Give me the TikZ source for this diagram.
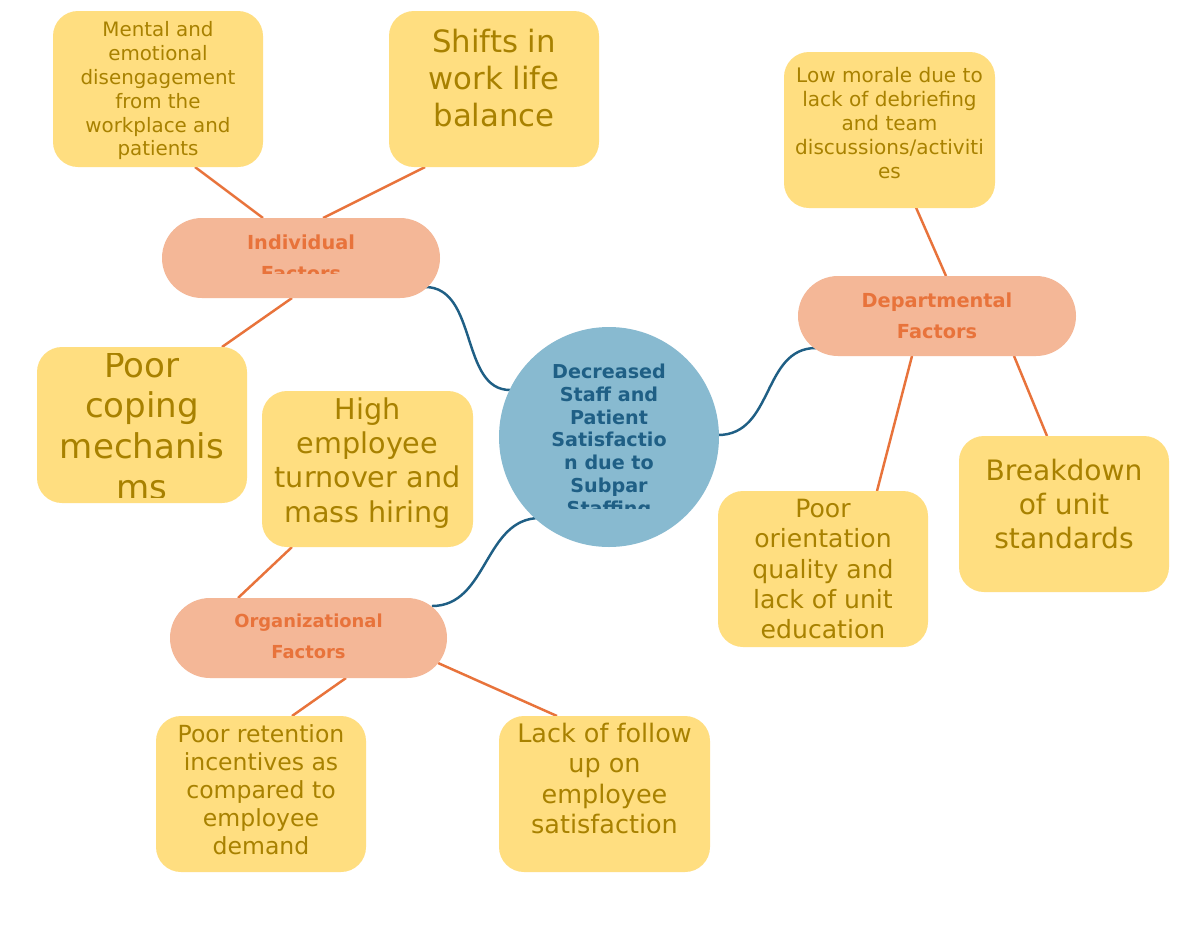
\documentclass[tikz,border=0pt]{standalone}
\usepackage{fontspec}
\setmainfont{DejaVu Sans}
\definecolor{boxf}{HTML}{FFDE80}
\definecolor{boxt}{HTML}{A88100}
\definecolor{pillf}{HTML}{F4B797}
\definecolor{orng}{HTML}{E8733B}
\definecolor{circf}{HTML}{88BAD0}
\definecolor{blu}{HTML}{1F5F85}
\tikzset{
 boxst/.style={fill=boxf,rounded corners=0.5cm,inner sep=0},
 pillst/.style={fill=pillf,rounded corners=0.8cm,inner sep=0},
 txt/.style={anchor=north,inner sep=0,align=center,text=boxt},
 ptxt/.style={anchor=north,inner sep=0,align=center,text=orng,font=\bfseries},
 oline/.style={draw=orng,line width=1.4pt},
 bline/.style={draw=blu,line width=1.4pt},
}
% #1 name #2 x1 #3 y1 #4 x2 #5 y2 #6 text north y #7 size #8 skip #9 text
\newcommand\tbox[9]{%
 \node[boxst,minimum width={(#4-#2)*0.02cm},minimum height={(#5-#3)*0.02cm}] (#1) at ({(#2+#4)/2},{(#3+#5)/2}) {};
 \begin{scope}\clip (#2,#3+6) rectangle (#4,#5-6);
 \node[txt,font=\fontsize{#7}{#8}\selectfont] at ({(#2+#4)/2},#6) {#9};
 \end{scope}}
\newcommand\pbox[9]{%
 \node[pillst,minimum width={(#4-#2)*0.02cm},minimum height={(#5-#3)*0.02cm}] (#1) at ({(#2+#4)/2},{(#3+#5)/2}) {};
 \begin{scope}\clip (#2,#3) rectangle (#4,#8);
 \node[ptxt,font=\fontsize{#7}{17.6}\selectfont\bfseries] at ({(#2+#4)/2},#6) {#9};
 \end{scope}}
\begin{document}
\begin{tikzpicture}[x=0.02cm,y=-0.02cm]
\fill[white] (0,0) rectangle (1200,927);
% connectors first
\coordinate (m1) at (195,167); \coordinate (i1) at (263,218);
\coordinate (s1) at (425,167); \coordinate (i2) at (323,218);
\coordinate (i3) at (292,298); \coordinate (pc1) at (222,347);
\coordinate (i4) at (425,287); \coordinate (c1) at (510,390);
\coordinate (lm1) at (914,203); \coordinate (d1) at (946,276);
\coordinate (d2) at (816,348); \coordinate (c2) at (718,435);
\coordinate (d3) at (912,356); \coordinate (po1) at (877,491);
\coordinate (d4) at (1014,356); \coordinate (b1) at (1047,436);
\coordinate (c3) at (540,518); \coordinate (o1) at (432,606);
\coordinate (h1) at (292,547); \coordinate (o2) at (238,598);
\coordinate (o3) at (346,678); \coordinate (r1) at (292,716);
\coordinate (o4) at (438,663); \coordinate (l1) at (557,716);
\draw[oline] (m1)--(i1); \draw[oline] (s1)--(i2); \draw[oline] (i3)--(pc1);
\draw[oline] (lm1)--(d1); \draw[oline] (d3)--(po1); \draw[oline] (d4)--(b1);
\draw[oline] (h1)--(o2); \draw[oline] (o3)--(r1); \draw[oline] (o4)--(l1);
\draw[bline] (i4) .. controls (478,287) and (460,390) .. (c1);
\draw[bline] (d2) .. controls (762,348) and (774,435) .. (c2);
\draw[bline] (c3) .. controls (484,518) and (488,606) .. (o1);
% boxes
\tbox{mental}{53}{11}{263}{167}{21}{11.3}{13.6}{Mental and\\emotional\\disengagement\\from the\\workplace and\\patients}
\tbox{shifts}{389}{11}{599}{167}{28.5}{17.5}{21}{Shifts in\\work life\\balance}
\tbox{morale}{784}{52}{995}{208}{67}{11.4}{13.7}{Low morale due to\\lack of debriefing\\and team\\discussions/activiti\\es}
\tbox{coping}{37}{347}{247}{503}{352}{19.4}{23.2}{Poor\\coping\\mechanis\\ms}
\tbox{high}{262}{391}{473}{547}{397}{16.3}{19.6}{High\\employee\\turnover and\\mass hiring}
\tbox{break}{959}{436}{1169}{592}{459}{16}{19.3}{Breakdown\\of unit\\standards}
\tbox{orient}{718}{491}{928}{647}{499}{14.3}{17.2}{Poor\\orientation\\quality and\\lack of unit\\education}
\tbox{reten}{156}{716}{366}{872}{724}{13.4}{16}{Poor retention\\incentives as\\compared to\\employee\\demand}
\tbox{lack}{499}{716}{710}{872}{722.5}{14.5}{17.4}{Lack of follow\\up on\\employee\\satisfaction}
\pbox{indiv}{162}{218}{440}{298}{234.5}{11}{273}{Individual\\Factors}
\pbox{dept}{798}{276}{1076}{356}{292.5}{11}{340}{Departmental\\Factors}
\pbox{org}{170}{598}{447}{678}{613.5}{10.2}{661}{Organizational\\Factors}
% center
\node[circle,fill=circf,minimum size={220*0.02cm},inner sep=0] (center) at (609,437) {};
\begin{scope}\clip (480,330) rectangle (740,508);
\node[inner sep=0,anchor=north,align=center,text=blu,font=\fontsize{10.9}{13}\selectfont\bfseries] at (609,363.5) {Decreased\\Staff and\\Patient\\Satisfactio\\n due to\\Subpar\\Staffing};
\end{scope}
\end{tikzpicture}
\end{document}
